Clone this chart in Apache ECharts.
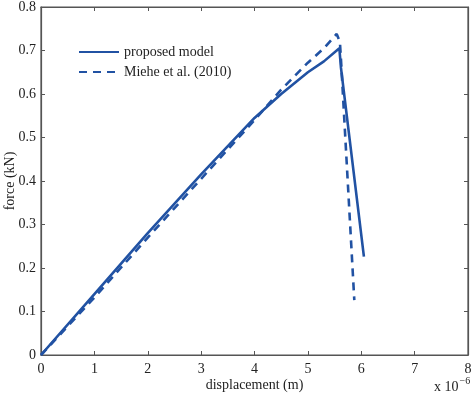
<!DOCTYPE html>
<html>
<head>
<meta charset="utf-8">
<script src="https://cdn.jsdelivr.net/npm/echarts@6/dist/echarts.min.js"></script>
<style>
  html, body { margin: 0; padding: 0; background: #fff; }
  #chart { width: 474px; height: 397px; }
</style>
</head>
<body>
<div id="chart"></div>
<script>
// displacement in units of 1e-6 m, force in kN
const proposedX = [0, 1, 2, 3, 4, 4.5, 5, 5.3, 5.59, 5.62, 6.05];
const proposedY = [0, 0.14, 0.28, 0.415, 0.545, 0.6, 0.65, 0.675, 0.705, 0.66, 0.226];
const mieheX = [0, 1, 2, 3, 4, 4.5, 5, 5.3, 5.54, 5.6, 5.62, 5.87];
const mieheY = [0, 0.132, 0.27, 0.405, 0.54, 0.61, 0.672, 0.705, 0.738, 0.72, 0.68, 0.126];
const xTicks = [0, 1, 2, 3, 4, 5, 6, 7, 8];
const yTicks = [0, 0.1, 0.2, 0.3, 0.4, 0.5, 0.6, 0.7, 0.8];

const blue = '#2152a3';
const axisGray = '#555';
const font = 'Liberation Serif';

const pairs = (xs, ys) => xs.map((x, i) => [x, ys[i]]);

const chart = echarts.init(document.getElementById('chart'));

const axisCommon = {
  axisLine: { show: true, onZero: false, lineStyle: { color: axisGray, width: 1.2 } },
  axisTick: { show: true, inside: true, length: 4, lineStyle: { color: axisGray } },
  splitLine: { show: false },
};

chart.setOption({
  animation: false,
  grid: {
    left: 41, right: 6, top: 7, bottom: 42, containLabel: false, outerBoundsMode: 'none',
    show: true, borderColor: axisGray, borderWidth: 1.2,
  },
  legend: {
    left: 73, top: 40, orient: 'vertical', itemWidth: 40, itemHeight: 10, itemGap: 6,
    itemStyle: { opacity: 0 },
    textStyle: { fontFamily: font, fontSize: 14, color: '#222' },
    data: ['proposed model', 'Miehe et al. (2010)'],
  },
  xAxis: [
    Object.assign({
      type: 'value', min: xTicks[0], max: xTicks[xTicks.length - 1], interval: 1,
      name: 'displacement (m)', nameLocation: 'middle', nameGap: 23, nameMoveOverlap: false,
      nameTextStyle: { fontFamily: font, fontSize: 14, color: '#222' },
      axisLabel: { fontFamily: font, fontSize: 14, color: '#222', margin: 7 },
    }, axisCommon),
    Object.assign({
      type: 'value', position: 'top', min: 0, max: 8, interval: 1,
      axisLabel: { show: false },
    }, axisCommon),
  ],
  yAxis: [
    Object.assign({
      type: 'value', min: yTicks[0], max: yTicks[yTicks.length - 1], interval: 0.1,
      name: 'force (kN)', nameLocation: 'middle', nameGap: 24, nameMoveOverlap: false,
      nameTextStyle: { fontFamily: font, fontSize: 14, color: '#222' },
      axisLabel: { fontFamily: font, fontSize: 14, color: '#222', margin: 5 },
    }, axisCommon),
    Object.assign({
      type: 'value', position: 'right', min: 0, max: 0.8, interval: 0.1,
      axisLabel: { show: false },
    }, axisCommon),
  ],
  graphic: [{
    type: 'text', left: 434, top: 376,
    style: {
      text: '{a|x 10}{b|−6}',
      rich: {
        a: { fontFamily: font, fontSize: 14, fill: '#222', verticalAlign: 'bottom' },
        b: { fontFamily: font, fontSize: 10, fill: '#222', verticalAlign: 'top', padding: [0, 0, 8, 1] },
      },
    },
  }],
  series: [
    {
      name: 'proposed model', type: 'line', symbol: 'none',
      data: pairs(proposedX, proposedY),
      lineStyle: { color: blue, width: 2.6 }, itemStyle: { color: blue },
    },
    {
      name: 'Miehe et al. (2010)', type: 'line', symbol: 'none',
      data: pairs(mieheX, mieheY),
      lineStyle: { color: blue, width: 2.6, type: [8, 6] }, itemStyle: { color: blue },
    },
  ],
});
</script>
</body>
</html>
